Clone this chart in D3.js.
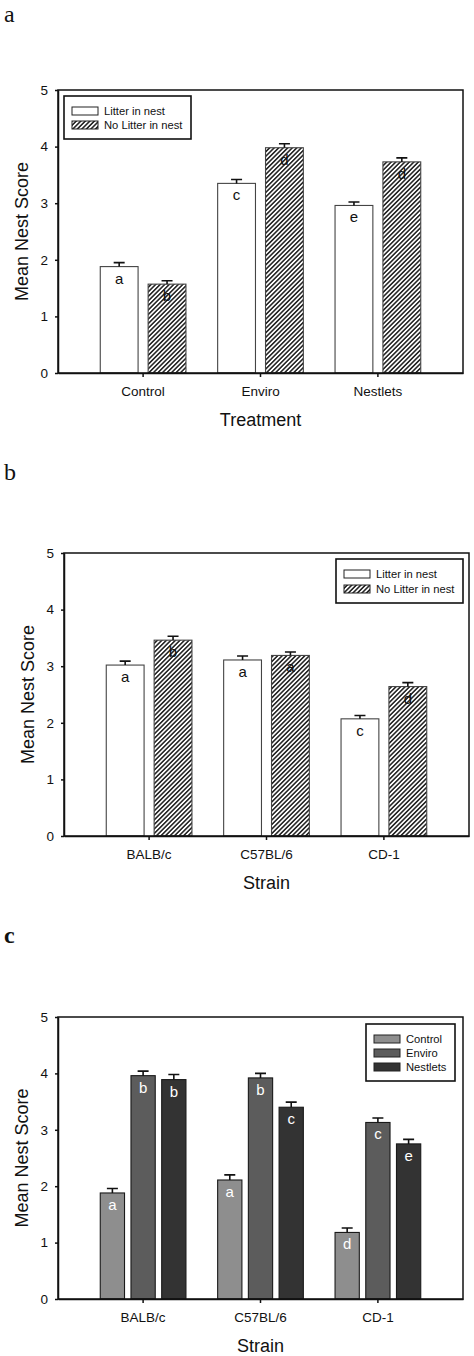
<!DOCTYPE html>
<html>
<head>
<meta charset="utf-8">
<script src="https://d3js.org/d3.v7.min.js"></script>
<style>
body { margin: 0; background: #fff; }
svg { display: block; font-family: Arial, 'Liberation Sans', sans-serif; }
.axis text { fill: #111; }
.axis path, .axis line { stroke: #111; stroke-width: 1.5; }
</style>
</head>
<body>
<svg id="chart"></svg>
<script>
var width = 474, height = 1356;

// ---- data ----
var treatments = ["Control", "Enviro", "Nestlets"];
var strains = ["BALB/c", "C57BL/6", "CD-1"];
var litterSeries = ["Litter in nest", "No Litter in nest"];
var treatSeries = ["Control", "Enviro", "Nestlets"];
var yTicks = [0, 1, 2, 3, 4, 5];

// panel a: by treatment
var aLitter = [1.88, 3.35, 2.96];
var aNoLitter = [1.57, 3.98, 3.73];
var aLitterErr = [0.07, 0.07, 0.06];
var aNoLitterErr = [0.06, 0.07, 0.07];
var aLitterLetters = ["a", "c", "e"];
var aNoLitterLetters = ["b", "d", "d"];

// panel b: by strain
var bLitter = [3.02, 3.11, 2.07];
var bNoLitter = [3.46, 3.19, 2.64];
var bLitterErr = [0.07, 0.07, 0.06];
var bNoLitterErr = [0.07, 0.06, 0.07];
var bLitterLetters = ["a", "a", "c"];
var bNoLitterLetters = ["b", "a", "d"];

// panel c: strain x treatment
var cControl = [1.88, 2.11, 1.18];
var cEnviro = [3.96, 3.92, 3.13];
var cNestlets = [3.89, 3.40, 2.75];
var cControlErr = [0.08, 0.09, 0.08];
var cEnviroErr = [0.08, 0.08, 0.08];
var cNestletsErr = [0.09, 0.09, 0.08];
var cControlLetters = ["a", "a", "d"];
var cEnviroLetters = ["b", "b", "c"];
var cNestletsLetters = ["b", "c", "e"];

var svg = d3.select('#chart')
  .attr('width', width)
  .attr('height', height);

// hatch pattern
var defs = svg.append('defs');
var pat = defs.append('pattern')
  .attr('id', 'hatch')
  .attr('patternUnits', 'userSpaceOnUse')
  .attr('width', 3.2)
  .attr('height', 3.2)
  .attr('patternTransform', 'rotate(45)');
pat.append('rect').attr('width', 3.2).attr('height', 3.2).attr('fill', '#fff');
pat.append('line')
  .attr('x1', 0.8).attr('y1', 0).attr('x2', 0.8).attr('y2', 3.2)
  .attr('stroke', '#1a1a1a').attr('stroke-width', 1.5);

var litterFills = ['#fff', 'url(#hatch)'];
var treatFills = ['#8e8e8e', '#5c5c5c', '#333333'];

function drawPanel(p) {
  var g = svg.append('g');

  var x = d3.scaleBand()
    .domain(p.categories)
    .range([p.left, p.right])
    .paddingInner(0.27)
    .paddingOuter(0.36);

  var xs = d3.scaleBand()
    .domain(p.series)
    .range([0, x.bandwidth()])
    .paddingInner(p.innerPad);

  var y = d3.scaleLinear()
    .domain([0, 5])
    .range([p.bottom, p.top]);

  // panel letter
  svg.append('text')
    .attr('x', 4)
    .attr('y', p.labelY)
    .style('font-family', "'Liberation Serif', 'DejaVu Serif', serif")
    .style('font-size', '24px')
    .style('font-weight', p.labelBold ? 'bold' : 'normal')
    .attr('fill', '#111')
    .text(p.label);

  // bars
  p.series.forEach(function(s, si) {
    var rows = p.categories.map(function(c, ci) {
      return { cat: c, v: p.values[si][ci], e: p.errs[si][ci], l: p.letters[si][ci] };
    });
    var sg = g.append('g');
    sg.selectAll('rect')
      .data(rows)
      .enter().append('rect')
      .attr('x', function(d) { return x(d.cat) + xs(s); })
      .attr('y', function(d) { return y(d.v); })
      .attr('width', xs.bandwidth())
      .attr('height', function(d) { return y(0) - y(d.v); })
      .attr('fill', p.fills[si])
      .attr('stroke', p.barStroke)
      .attr('stroke-width', 1.1);

    // error bars (up only)
    sg.selectAll('path.err')
      .data(rows)
      .enter().append('path')
      .attr('class', 'err')
      .attr('d', function(d) {
        var cx = x(d.cat) + xs(s) + xs.bandwidth() / 2;
        var y0 = y(d.v), y1 = y(d.v + d.e);
        return 'M' + cx + ',' + y0 + 'V' + y1 + 'M' + (cx - 5.5) + ',' + y1 + 'H' + (cx + 5.5);
      })
      .attr('stroke', '#111')
      .attr('stroke-width', 1.6)
      .attr('fill', 'none');

    // letters
    sg.selectAll('text')
      .data(rows)
      .enter().append('text')
      .attr('x', function(d) { return x(d.cat) + xs(s) + xs.bandwidth() / 2; })
      .attr('y', function(d) { return y(d.v) + 17; })
      .attr('text-anchor', 'middle')
      .style('font-size', '15px')
      .attr('fill', p.letterColor)
      .text(function(d) { return d.l; });
  });

  // frame
  g.append('rect')
    .attr('x', p.left)
    .attr('y', p.top)
    .attr('width', p.right - p.left)
    .attr('height', p.bottom - p.top)
    .attr('fill', 'none')
    .attr('stroke', '#111')
    .attr('stroke-width', 1.5);

  // axes
  g.append('g')
    .attr('class', 'axis')
    .attr('transform', 'translate(' + p.left + ',0)')
    .call(d3.axisLeft(y).tickValues(yTicks).tickFormat(d3.format('d'))
      .tickSize(3).tickSizeOuter(0).tickPadding(7))
    .call(function(a) { a.selectAll('text').style('font-size', '13.5px'); });

  g.append('g')
    .attr('class', 'axis')
    .attr('transform', 'translate(0,' + p.bottom + ')')
    .call(d3.axisBottom(x).tickSize(4).tickSizeOuter(0).tickPadding(9))
    .call(function(a) { a.selectAll('text').style('font-size', '13.5px'); });

  // axis titles
  g.append('text')
    .attr('transform', 'translate(' + (p.left - 30) + ',' + ((p.top + p.bottom) / 2) + ')rotate(-90)')
    .attr('text-anchor', 'middle')
    .style('font-size', '18px')
    .attr('fill', '#111')
    .text('Mean Nest Score');

  g.append('text')
    .attr('x', (p.left + p.right) / 2)
    .attr('y', p.bottom + 53)
    .attr('text-anchor', 'middle')
    .style('font-size', '18px')
    .attr('fill', '#111')
    .text(p.xTitle);

  // legend
  var lg = g.append('g')
    .attr('transform', 'translate(' + p.legX + ',' + p.legY + ')');
  lg.append('rect')
    .attr('width', p.legW)
    .attr('height', p.legH)
    .attr('fill', '#fff')
    .attr('stroke', '#111')
    .attr('stroke-width', 1.6);
  p.series.forEach(function(s, si) {
    var ry = 11 + si * p.legStep;
    lg.append('rect')
      .attr('x', 8).attr('y', ry)
      .attr('width', 26).attr('height', 8)
      .attr('fill', p.fills[si])
      .attr('stroke', '#222')
      .attr('stroke-width', 1);
    lg.append('text')
      .attr('x', 40).attr('y', ry + 8)
      .style('font-size', '11.2px')
      .attr('fill', '#111')
      .text(s);
  });
}

drawPanel({
  label: 'a', labelY: 22, labelBold: false,
  left: 58, right: 463, top: 90, bottom: 373,
  categories: treatments, series: litterSeries, innerPad: 0.21,
  values: [aLitter, aNoLitter], errs: [aLitterErr, aNoLitterErr],
  letters: [aLitterLetters, aNoLitterLetters],
  fills: litterFills, barStroke: '#444', letterColor: '#111',
  xTitle: 'Treatment',
  legX: 64, legY: 96, legW: 127, legH: 43, legStep: 14
});

drawPanel({
  label: 'b', labelY: 480, labelBold: false,
  left: 64, right: 469, top: 553, bottom: 836,
  categories: strains, series: litterSeries, innerPad: 0.21,
  values: [bLitter, bNoLitter], errs: [bLitterErr, bNoLitterErr],
  letters: [bLitterLetters, bNoLitterLetters],
  fills: litterFills, barStroke: '#444', letterColor: '#111',
  xTitle: 'Strain',
  legX: 336, legY: 559, legW: 127, legH: 44, legStep: 15
});

drawPanel({
  label: 'c', labelY: 943, labelBold: true,
  left: 58, right: 463, top: 1017, bottom: 1299,
  categories: strains, series: treatSeries, innerPad: 0.21,
  values: [cControl, cEnviro, cNestlets], errs: [cControlErr, cEnviroErr, cNestletsErr],
  letters: [cControlLetters, cEnviroLetters, cNestletsLetters],
  fills: treatFills, barStroke: '#1a1a1a', letterColor: '#fff',
  xTitle: 'Strain',
  legX: 366, legY: 1024, legW: 89, legH: 57, legStep: 14
});
</script>
</body>
</html>
